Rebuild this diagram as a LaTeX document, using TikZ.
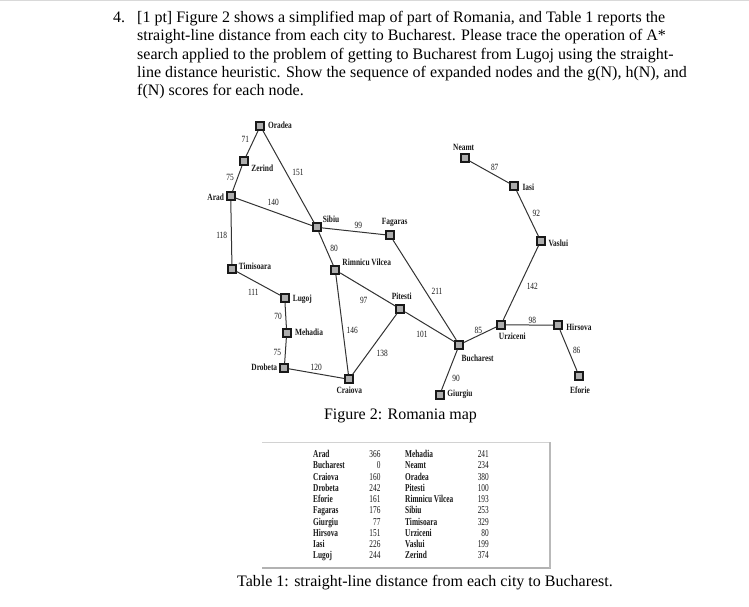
\documentclass[tikz,border=0pt]{standalone}
\usepackage{fontspec}
\setmainfont{Liberation Serif}
\newfontfamily\mapfont[FakeStretch=0.78]{Liberation Serif}
\newfontfamily\tabfont[FakeStretch=0.70]{Liberation Serif}
\definecolor{cityfill}{gray}{0.68}
\definecolor{inkc}{gray}{0.1}
\definecolor{edgec}{gray}{0.2}
\tikzset{
 city/.style={draw=inkc,fill=cityfill,line width=1.7pt,minimum size=8pt,inner sep=0pt,rectangle},
 road/.style={draw=edgec,line width=1pt},
 cname/.style={font=\mapfont\fontsize{9.5}{10}\selectfont\bfseries,text=inkc,inner sep=0pt},
 dist/.style={font=\mapfont\fontsize{9.5}{10}\selectfont,text=inkc,inner sep=0pt},
 bodyline/.style={font=\fontsize{16}{18}\selectfont,anchor=base west,inner sep=0pt,text=black},
 captionline/.style={font=\fontsize{16}{18}\selectfont,anchor=base,inner sep=0pt,text=black},
 tname/.style={font=\tabfont\fontsize{10.5}{11}\selectfont\bfseries,anchor=west,inner sep=0pt,text=inkc},
 tval/.style={font=\tabfont\fontsize{10.5}{11}\selectfont,anchor=east,inner sep=0pt,text=inkc},
}
\begin{document}
\begin{tikzpicture}[x=1pt,y=-1pt]
\useasboundingbox (0,0) rectangle (749,607);
\fill[gray!30] (0,0) rectangle (749,1.5);
% question text
\node[bodyline] (q0) at (113,22.7) {4.};
\node[bodyline] (q1) at (137,22.7) {[1 pt] Figure 2 shows a simplified map of part of Romania, and Table 1 reports the};
\node[bodyline] (q2) at (137,41) {straight-line distance from each city to Bucharest. Please trace the operation of A*};
\node[bodyline] (q3) at (137,59.2) {search applied to the problem of getting to Bucharest from Lugoj using the straight-};
\node[bodyline] (q4) at (137,77.5) {line distance heuristic. Show the sequence of expanded nodes and the g(N), h(N), and};
\node[bodyline] (q5) at (137,95.7) {f(N) scores for each node.};
% cities
\foreach \n/\x/\y in {oradea/260.3/126,zerind/243.7/161.3,arad/230.7/196.3,sibiu/316.7/227.3,fagaras/390/235.3,rimnicu/335.3/270,timisoara/232/269,lugoj/284.7/297.7,mehadia/286.7/332.7,drobeta/284.3/368,craiova/349/379.3,pitesti/400.3/309,bucharest/459.3/344.7,giurgiu/439.7/394.7,neamt/464.7/158.3,iasi/514.3/186,vaslui/540.7/241,urziceni/501/324.7,hirsova/558/325.3,eforie/579/375.7}
  \node[city] (\n) at (\x,\y) {};
% roads
\foreach \a/\b in {oradea/zerind,zerind/arad,oradea/sibiu,arad/sibiu,arad/timisoara,timisoara/lugoj,lugoj/mehadia,mehadia/drobeta,drobeta/craiova,craiova/rimnicu,craiova/pitesti,rimnicu/sibiu,rimnicu/pitesti,sibiu/fagaras,fagaras/bucharest,pitesti/bucharest,bucharest/giurgiu,bucharest/urziceni,urziceni/vaslui,vaslui/iasi,iasi/neamt,urziceni/hirsova,hirsova/eforie}
  \draw[road] (\a) -- (\b);
% city names
\foreach \n/\x/\y/\t in {loradea/280/125.7/Oradea,lzerind/262.3/168/Zerind,larad/215.7/197/Arad,lsibiu/331/219.3/Sibiu,lfagaras/394.7/222.3/Fagaras,lrimnicu/366.7/262.7/Rimnicu Vilcea,ltimisoara/255/266.7/Timisoara,llugoj/302.3/299/Lugoj,lmehadia/309/332.7/Mehadia,ldrobeta/264.3/367.7/Drobeta,lcraiova/349.3/390.7/Craiova,lpitesti/401.7/296.3/Pitesti,lbucharest/477.7/358.7/Bucharest,lgiurgiu/460/394.7/Giurgiu,lneamt/463.7/147/Neamt,liasi/528.3/187.7/Iasi,lvaslui/558.3/243/Vaslui,lurziceni/512.3/336.7/Urziceni,lhirsova/579/327/Hirsova,leforie/580/390.3/Eforie}
  \node[cname] (\n) at (\x,\y) {\t};
% distances
\foreach \n/\x/\y/\t in {d1/245.3/139/71,d2/230/177/75,d3/298/172.7/151,d4/273.3/202.7/140,d5/221.7/235/118,d6/358.3/225.7/99,d7/334/248.7/80,d8/253.3/292.7/111,d9/363.7/300.7/97,d10/437/291.7/211,d11/278/316.7/70,d12/352.3/330/146,d13/422/334.3/101,d14/478.3/330/85,d15/277.3/352/75,d16/382.3/353.7/138,d17/316.3/367.3/120,d18/456/378.3/90,d19/494.7/167/87,d20/536.3/213/92,d21/532.3/286.7/142,d22/532.3/320/98,d23/576.7/350/86}
  \node[dist] (\n) at (\x,\y) {\t};
\node[captionline] (figcap) at (400.5,419) {Figure 2: Romania map};
% table frame
\draw[gray!35,line width=0.8pt] (262,442) -- (549.5,442);
\draw[gray!60,line width=1.6pt] (262,568) -- (550.5,568);
\draw[gray!55,line width=1.4pt] (550,442) -- (550,568);
% table rows
\foreach \i/\na/\va/\nb/\vb in {0/Arad/366/Mehadia/241,1/Bucharest/0/Neamt/234,2/Craiova/160/Oradea/380,3/Drobeta/242/Pitesti/100,4/Eforie/161/Rimnicu Vilcea/193,5/Fagaras/176/Sibiu/253,6/Giurgiu/77/Timisoara/329,7/Hirsova/151/Urziceni/80,8/Iasi/226/Vaslui/199,9/Lugoj/244/Zerind/374}{
  \pgfmathsetmacro{\ry}{455.3+11.27*\i}
  \node[tname] (ta\i) at (313,\ry) {\strut\na};
  \node[tval] (tb\i) at (380.7,\ry) {\strut\va};
  \node[tname] (tc\i) at (405,\ry) {\strut\nb};
  \node[tval] (td\i) at (489,\ry) {\strut\vb};
}
\node[captionline] (tabcap) at (425,586) {Table 1: straight-line distance from each city to Bucharest.};
\end{tikzpicture}
\end{document}
